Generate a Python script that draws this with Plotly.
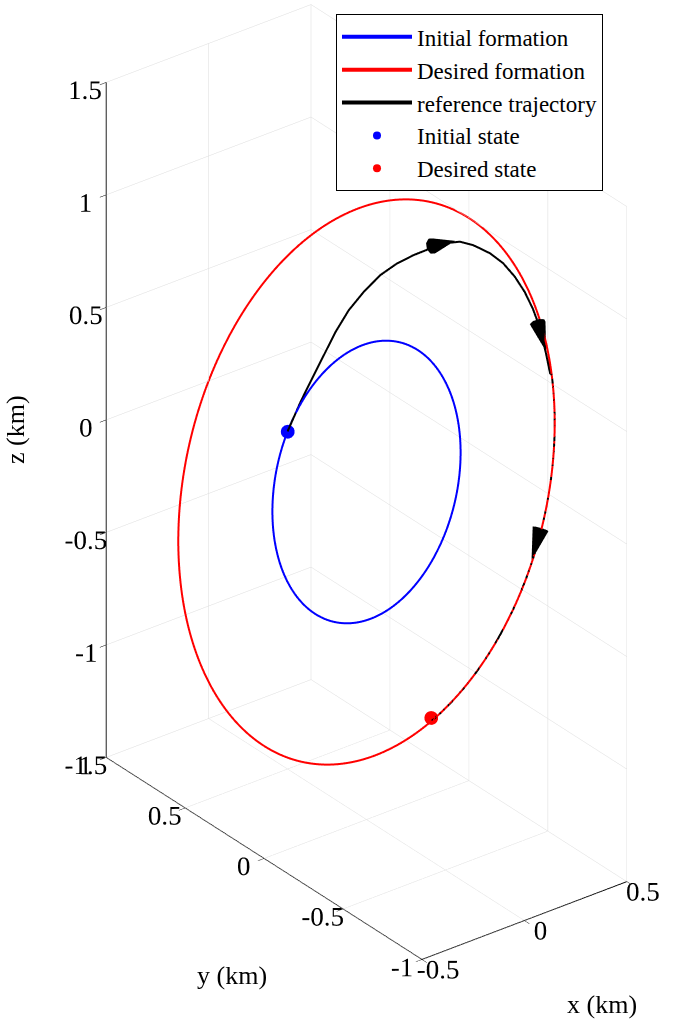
import numpy as np
import plotly.graph_objects as go

# ---- data ----
# relative-orbit amplitudes (km): x, y, z
init_amp = [0.25, 0.5, 0.5]
des_amp = [0.5, 1.0, 1.0]

# states (km)
init_state = [0.0, 0.5, 0.0]
des_state = [-0.295, -0.792, -0.59]

# reference trajectory (transfer arc, km)
ref_x = [0.0, 0.057, 0.104, 0.151, 0.198, 0.243, 0.286, 0.327, 0.361, 0.390, 0.416, 0.437,
         0.455, 0.463, 0.467, 0.465, 0.456, 0.442, 0.425, 0.404, 0.370, 0.343]
ref_y = [0.5, 0.492, 0.479, 0.466, 0.453, 0.428, 0.389, 0.337, 0.276, 0.208, 0.137, 0.080,
         -0.001, -0.075, -0.175, -0.262, -0.347, -0.427, -0.501, -0.571, -0.656, -0.718]
ref_z = [0.0, 0.115, 0.209, 0.302, 0.395, 0.487, 0.571, 0.655, 0.722, 0.780, 0.832, 0.873,
         0.911, 0.926, 0.934, 0.929, 0.911, 0.885, 0.850, 0.808, 0.740, 0.686]
# after joining, it follows the desired orbit between these phase angles (deg)
ref_join_deg = [46.7, 126.7]

# arrow heads: positions and directions
arr_x = [0.437, 0.390, 0.070]
arr_y = [0.080, -0.605, -0.983]
arr_z = [0.873, 0.780, 0.139]
arr_u = [0.039, -0.055, -0.49]
arr_v = [-0.138, -0.156, -0.139]
arr_w = [0.078, -0.111, -0.983]

x_ticks = [-0.5, 0, 0.5]
y_ticks = [-1, -0.5, 0, 0.5, 1]
z_ticks = [-1.5, -1, -0.5, 0, 0.5, 1, 1.5]


def orbit(amp, t):
    return amp[0] * np.cos(t), -amp[1] * np.sin(t), amp[2] * np.cos(t)


t = np.linspace(0, 2 * np.pi, 361)
bx, by, bz = orbit(init_amp, t)
rx, ry, rz = orbit(des_amp, t)
ta = np.radians(np.linspace(ref_join_deg[0], ref_join_deg[1], 60))
ax_, ay_, az_ = orbit(des_amp, ta)
refX = list(ref_x) + list(ax_)
refY = list(ref_y) + list(ay_)
refZ = list(ref_z) + list(az_)

# unit directions for the arrow heads
U = np.array([arr_u, arr_v, arr_w], dtype=float)
U = U / np.linalg.norm(U, axis=0)

FONT = "Liberation Serif"
fig = go.Figure()
fig.add_trace(go.Scatter3d(x=bx, y=by, z=bz, mode="lines", name="Initial formation",
                           line=dict(color="#0000FF", width=4)))
fig.add_trace(go.Scatter3d(x=rx, y=ry, z=rz, mode="lines", name="Desired formation",
                           line=dict(color="#FF0000", width=4)))
fig.add_trace(go.Scatter3d(x=refX, y=refY, z=refZ, mode="lines", name="reference trajectory",
                           line=dict(color="#000000", width=4)))
fig.add_trace(go.Scatter3d(x=[init_state[0]], y=[init_state[1]], z=[init_state[2]], mode="markers",
                           name="Initial state", marker=dict(color="#0000FF", size=8)))
fig.add_trace(go.Scatter3d(x=[des_state[0]], y=[des_state[1]], z=[des_state[2]], mode="markers",
                           name="Desired state", marker=dict(color="#FF0000", size=8)))
fig.add_trace(go.Cone(x=arr_x, y=arr_y, z=arr_z, u=U[0], v=U[1], w=U[2],
                      sizemode="absolute", sizeref=0.2, anchor="center",
                      colorscale=[[0, "black"], [1, "black"]], showscale=False,
                      lighting=dict(ambient=1, diffuse=0, specular=0, fresnel=0),
                      showlegend=False, hoverinfo="skip"))

axis_common = dict(showbackground=False, gridcolor="#dcdcdc", gridwidth=1,
                   showline=True, linecolor="black", linewidth=2,
                   ticks="outside", tickcolor="black", ticklen=8, tickangle=0,
                   zeroline=False, showspikes=False, title=dict(text=""),
                   tickfont=dict(family=FONT, size=18, color="black"))

eye_dir = np.array([-0.531, -0.689, 0.493])
eye = eye_dir * 2.0
S = 1.517
CZ = -0.0663

fig.update_layout(
    width=685, height=1023,
    margin=dict(l=0, r=0, t=0, b=0),
    paper_bgcolor="white",
    font=dict(family=FONT, size=25, color="black"),
    scene=dict(
        domain=dict(x=[0.07, 1.0], y=[0.0, 1.0]),
        xaxis=dict(range=[-0.5, 0.5], tickvals=x_ticks, ticktext=["-0.5", "0", "0.5"], **axis_common),
        yaxis=dict(range=[-1, 1], tickvals=y_ticks, ticktext=["-1", "-0.5", "0", "0.5", "1"], **axis_common),
        zaxis=dict(range=[-1.5, 1.5], tickvals=z_ticks,
                   ticktext=["-1.5", "-1", "-0.5", "0", "0.5", "1", "1.5"], **axis_common),
        aspectmode="manual", aspectratio=dict(x=S / 3, y=2 * S / 3, z=S),
        camera=dict(eye=dict(x=eye[0], y=eye[1], z=eye[2] + CZ), center=dict(x=0, y=0, z=CZ),
                    up=dict(x=0, y=0, z=1), projection=dict(type="orthographic")),
    ),
    legend=dict(x=0.4905, y=0.986, xanchor="left", yanchor="top",
                bgcolor="white", bordercolor="black", borderwidth=1,
                font=dict(family=FONT, size=23), itemwidth=70, tracegroupgap=0),
    annotations=[
        dict(text="z (km)", x=15 / 685, y=1 - 430 / 1023, xref="paper", yref="paper",
             xanchor="center", yanchor="middle",
             textangle=-90, showarrow=False, font=dict(family=FONT, size=26)),
        dict(text="y (km)", x=232 / 685, y=1 - 975 / 1023, xref="paper", yref="paper",
             xanchor="center", yanchor="middle",
             showarrow=False, font=dict(family=FONT, size=26)),
        dict(text="x (km)", x=602 / 685, y=1 - 1004 / 1023, xref="paper", yref="paper",
             xanchor="center", yanchor="middle",
             showarrow=False, font=dict(family=FONT, size=26)),
    ],
)

fig.write_html("out.html")
